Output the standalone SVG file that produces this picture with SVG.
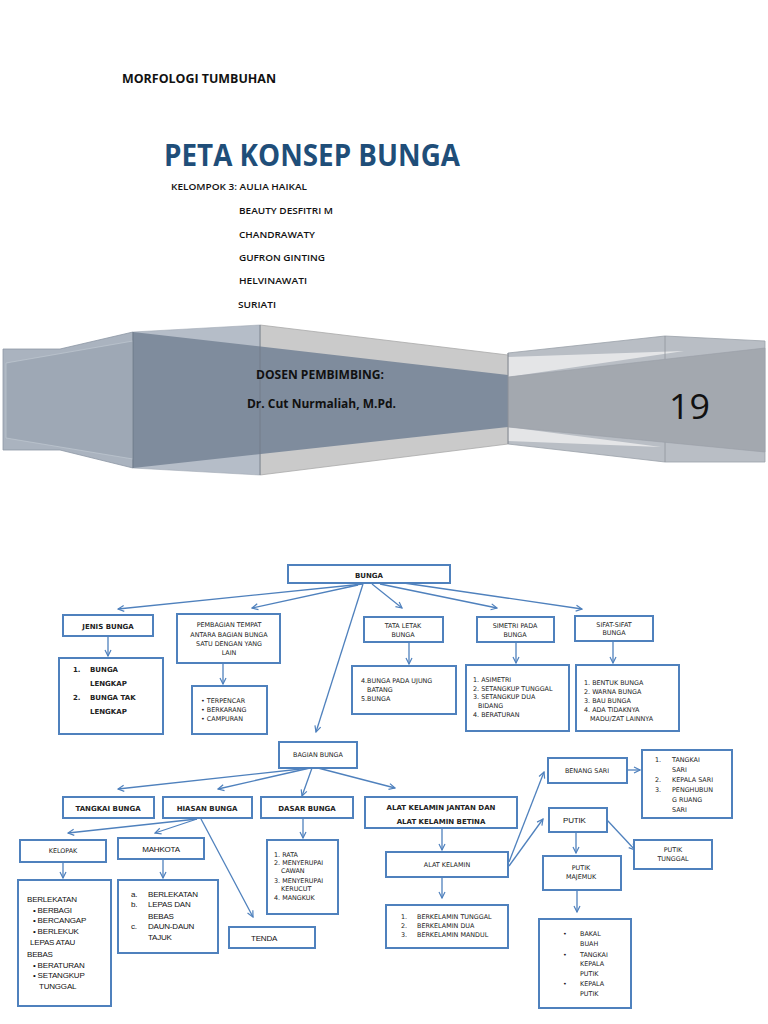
<svg xmlns="http://www.w3.org/2000/svg" width="768" height="1024" viewBox="0 0 768 1024">
<defs>
<marker id="ah" markerWidth="8" markerHeight="8" refX="7" refY="4" orient="auto" markerUnits="userSpaceOnUse"><path d="M1,1 L7,4 L1,7" fill="none" stroke="#4f81bd" stroke-width="1.2"/></marker>
<style>
.box{fill:#fff;stroke:#4f81bd;stroke-width:2}
.c{stroke:#4f81bd;stroke-width:1.3;fill:none;marker-end:url(#ah)}
.t{font-family:"DejaVu Sans",Verdana,sans-serif;font-size:6.4px;fill:#222}
.tm{text-anchor:middle}
.b{font-family:"DejaVu Sans",Verdana,sans-serif;font-size:7px;font-weight:bold;fill:#222}
.l{font-family:"Liberation Sans",Arial,sans-serif;font-size:8px;fill:#111;letter-spacing:-0.2px}
.h{font-family:"Open Sans","Liberation Sans",sans-serif;fill:#111}
.n{font-weight:600}
</style>
</defs>
<rect width="768" height="1024" fill="#fff"/>
<g id="header">
<text class="h" x="122" y="83" font-size="12.5" font-weight="bold" textLength="154" lengthAdjust="spacingAndGlyphs">MORFOLOGI TUMBUHAN</text>
<text x="164" y="166" font-family="'Open Sans','Liberation Sans',sans-serif" font-size="30" font-weight="bold" fill="#1f4e79" textLength="296" lengthAdjust="spacingAndGlyphs">PETA KONSEP BUNGA</text>
<text class="h n" x="171" y="190" font-size="9.5" textLength="136" lengthAdjust="spacingAndGlyphs">KELOMPOK 3: AULIA HAIKAL</text>
<text class="h n" x="239" y="214" font-size="9.5" textLength="94" lengthAdjust="spacingAndGlyphs">BEAUTY DESFITRI M</text>
<text class="h n" x="239" y="238" font-size="9.5" textLength="76" lengthAdjust="spacingAndGlyphs">CHANDRAWATY</text>
<text class="h n" x="239" y="261" font-size="9.5" textLength="86" lengthAdjust="spacingAndGlyphs">GUFRON GINTING</text>
<text class="h n" x="239" y="284" font-size="9.5" textLength="68" lengthAdjust="spacingAndGlyphs">HELVINAWATI</text>
<text class="h n" x="238" y="308" font-size="9.5" textLength="38" lengthAdjust="spacingAndGlyphs">SURIATI</text>
</g>
<g id="banner">
<polygon points="508,353 665,336 765,341 765,462 665,462 508,444" fill="#b9bec5" stroke="#9aa1a9" stroke-width="0.8"/>
<polygon points="508,357 684,351 508,377" fill="#e4e5e7"/>
<polygon points="508,427 661,447 508,441" fill="#e4e5e7"/>
<line x1="665" y1="336" x2="665" y2="462" stroke="#8f959d" stroke-width="0.8"/>
<polygon points="508,377 765,348 765,452 508,427" fill="#a3a8af" stroke="#9aa0a8" stroke-width="0.6"/>
<polygon points="260,325 508,355 508,444 260,475" fill="#cacaca" stroke="#a9a9a9" stroke-width="0.8"/>
<polygon points="133,332 260,325 260,475 133,468" fill="#b5bdc8" stroke="#a0a8b3" stroke-width="0.6"/>
<polygon points="3,349 60,349 133,332 133,468 60,450 3,450" fill="#aab3bf" stroke="#8d97a4" stroke-width="0.8"/>
<polygon points="6,363 133,341 133,459 6,438" fill="#9ea8b5" stroke="#c5ccd5" stroke-width="0.6"/>
<polygon points="133,332 508,375 508,427 133,468" fill="#7f8c9d"/>
<line x1="133" y1="332" x2="133" y2="468" stroke="#6f7b8a" stroke-width="1"/>
<line x1="260" y1="325" x2="260" y2="475" stroke="#6f7680" stroke-width="0.8" opacity="0.8"/>
<line x1="508" y1="353" x2="508" y2="444" stroke="#8a9099" stroke-width="1"/>
<text class="h" x="256" y="379" font-size="12" font-weight="bold" textLength="128" lengthAdjust="spacingAndGlyphs">DOSEN PEMBIMBING:</text>
<text class="h" x="247" y="408" font-size="12" font-weight="bold" textLength="149" lengthAdjust="spacingAndGlyphs">Dr. Cut Nurmaliah, M.Pd.</text>
<text class="h" x="669" y="419" font-size="34" textLength="41" lengthAdjust="spacingAndGlyphs">19</text>
</g>
<g id="connectors">
<line class="c" x1="363" y1="584" x2="118" y2="609"/>
<line class="c" x1="358" y1="585" x2="252" y2="608"/>
<line class="c" x1="363" y1="584" x2="316" y2="732"/>
<line class="c" x1="372" y1="584" x2="402" y2="608"/>
<line class="c" x1="380" y1="584" x2="497" y2="608"/>
<line class="c" x1="397" y1="582" x2="582" y2="609"/>
<line class="c" x1="108" y1="637" x2="108" y2="656"/>
<line class="c" x1="223" y1="664" x2="223" y2="684"/>
<line class="c" x1="409" y1="643" x2="409" y2="664"/>
<line class="c" x1="516" y1="643" x2="516" y2="663"/>
<line class="c" x1="613" y1="642" x2="613" y2="663"/>
<line class="c" x1="310" y1="768" x2="118" y2="789"/>
<line class="c" x1="310" y1="768" x2="218" y2="789"/>
<line class="c" x1="312" y1="768" x2="302" y2="796"/>
<line class="c" x1="318" y1="768" x2="395" y2="788"/>
<line class="c" x1="197" y1="819" x2="68" y2="833"/>
<line class="c" x1="197" y1="819" x2="155" y2="833"/>
<line class="c" x1="201" y1="819" x2="253" y2="917"/>
<line class="c" x1="303" y1="819" x2="303" y2="838"/>
<line class="c" x1="63" y1="862" x2="63" y2="878"/>
<line class="c" x1="163" y1="859" x2="163" y2="878"/>
<line class="c" x1="442" y1="828" x2="442" y2="850"/>
<line class="c" x1="442" y1="877" x2="442" y2="898"/>
<line class="c" x1="509" y1="862" x2="544" y2="772"/>
<line class="c" x1="509" y1="866" x2="543" y2="819"/>
<line class="c" x1="627" y1="770" x2="640" y2="770"/>
<line class="c" x1="607" y1="820" x2="635" y2="850"/>
<line class="c" x1="576" y1="832" x2="576" y2="853"/>
<line class="c" x1="577" y1="890" x2="577" y2="912"/>
</g>
<g id="bunga"><rect class="box" x="288" y="565" width="162" height="18"/><text class="b tm" x="369" y="578">BUNGA</text></g>
<g id="jenis"><rect class="box" x="63" y="615" width="90" height="21"/><text class="b tm" x="108" y="629">JENIS BUNGA</text></g>
<g id="jenis-list"><rect class="box" x="59" y="658" width="104" height="76"/>
<text class="b" font-size="7.5" x="73" y="672">1.</text><text class="b" font-size="7.5" x="90" y="672">BUNGA</text>
<text class="b" font-size="7.5" x="90" y="686">LENGKAP</text>
<text class="b" font-size="7.5" x="73" y="700">2.</text><text class="b" font-size="7.5" x="90" y="700">BUNGA TAK</text>
<text class="b" font-size="7.5" x="90" y="714">LENGKAP</text></g>
<g id="pembagian"><rect class="box" x="177" y="614" width="103" height="49"/>
<text class="t tm" x="229" y="627">PEMBAGIAN TEMPAT</text><text class="t tm" x="229" y="637">ANTARA BAGIAN BUNGA</text><text class="t tm" x="229" y="646">SATU DENGAN YANG</text><text class="t tm" x="229" y="655">LAIN</text></g>
<g id="pembagian-list"><rect class="box" x="192" y="686" width="75" height="48"/>
<text class="t" x="201" y="703">• TERPENCAR</text><text class="t" x="201" y="712">• BERKARANG</text><text class="t" x="201" y="721">• CAMPURAN</text></g>
<g id="tata"><rect class="box" x="364" y="617" width="79" height="25"/><text class="t tm" x="403" y="628">TATA LETAK</text><text class="t tm" x="403" y="637">BUNGA</text></g>
<g id="tata-list"><rect class="box" x="352" y="666" width="104" height="48"/>
<text class="t" x="361" y="683">4.BUNGA PADA UJUNG</text><text class="t" x="367" y="692">BATANG</text><text class="t" x="361" y="701">5.BUNGA</text></g>
<g id="simetri"><rect class="box" x="477" y="617" width="77" height="25"/><text class="t tm" x="515" y="628">SIMETRI PADA</text><text class="t tm" x="515" y="637">BUNGA</text></g>
<g id="simetri-list"><rect class="box" x="466" y="665" width="103" height="66"/>
<text class="t" x="473" y="682">1. ASIMETRI</text><text class="t" x="473" y="691">2. SETANGKUP TUNGGAL</text><text class="t" x="473" y="699">3. SETANGKUP DUA</text><text class="t" x="478" y="708">BIDANG</text><text class="t" x="473" y="717">4. BERATURAN</text></g>
<g id="sifat"><rect class="box" x="575" y="616" width="78" height="25"/><text class="t tm" x="614" y="627">SIFAT-SIFAT</text><text class="t tm" x="614" y="635">BUNGA</text></g>
<g id="sifat-list"><rect class="box" x="576" y="665" width="103" height="66"/>
<text class="t" x="584" y="685">1. BENTUK BUNGA</text><text class="t" x="584" y="694">2. WARNA BUNGA</text><text class="t" x="584" y="703">3. BAU BUNGA</text><text class="t" x="584" y="712">4. ADA TIDAKNYA</text><text class="t" x="590" y="721">MADU/ZAT LAINNYA</text></g>
<g id="bagian"><rect class="box" x="279" y="742" width="78" height="26"/><text class="t tm" x="318" y="757">BAGIAN BUNGA</text></g>
<g id="tangkai"><rect class="box" x="63" y="797" width="91" height="21"/><text class="b tm" x="108" y="811">TANGKAI BUNGA</text></g>
<g id="hiasan"><rect class="box" x="163" y="797" width="89" height="21"/><text class="b tm" x="207" y="811">HIASAN BUNGA</text></g>
<g id="dasar"><rect class="box" x="261" y="797" width="92" height="21"/><text class="b tm" x="307" y="811">DASAR BUNGA</text></g>
<g id="alat-jantan-betina"><rect class="box" x="365" y="797" width="152" height="31"/><text class="b tm" x="441" y="810">ALAT KELAMIN JANTAN DAN</text><text class="b tm" x="441" y="824">ALAT KELAMIN BETINA</text></g>
<g id="kelopak"><rect class="box" x="20" y="840" width="86" height="22"/><text class="t tm" font-size="7" x="63" y="853">KELOPAK</text></g>
<g id="mahkota"><rect class="box" x="118" y="838" width="86" height="21"/><text class="l tm" font-size="9.5" x="161" y="852">MAHKOTA</text></g>
<g id="dasar-list"><rect class="box" x="267" y="840" width="71" height="74"/>
<text class="t" x="274" y="857">1. RATA</text><text class="t" x="274" y="865">2. MENYERUPAI</text><text class="t" x="281" y="873">CAWAN</text><text class="t" x="274" y="883">3. MENYERUPAI</text><text class="t" x="281" y="891">KERUCUT</text><text class="t" x="274" y="900">4. MANGKUK</text></g>
<g id="kelopak-list"><rect class="box" x="18" y="880" width="93" height="126"/>
<text class="l" x="27" y="902">BERLEKATAN</text><text class="l" x="33" y="913">• BERBAGI</text><text class="l" x="33" y="923">• BERCANGAP</text><text class="l" x="33" y="934">• BERLEKUK</text><text class="l" x="30" y="945">LEPAS ATAU</text><text class="l" x="27" y="957">BEBAS</text><text class="l" x="33" y="968">• BERATURAN</text><text class="l" x="33" y="978">• SETANGKUP</text><text class="l" x="39" y="989">TUNGGAL</text></g>
<g id="mahkota-list"><rect class="box" x="118" y="880" width="100" height="73"/>
<text class="l" x="131" y="897">a.</text><text class="l" x="148" y="897">BERLEKATAN</text><text class="l" x="131" y="907">b.</text><text class="l" x="148" y="907">LEPAS DAN</text><text class="l" x="148" y="919">BEBAS</text><text class="l" x="131" y="929">c.</text><text class="l" x="148" y="929">DAUN-DAUN</text><text class="l" x="148" y="940">TAJUK</text></g>
<g id="tenda"><rect class="box" x="229" y="927" width="86" height="21"/><text class="l" font-size="9" x="251" y="941">TENDA</text></g>
<g id="alat-kelamin"><rect class="box" x="386" y="852" width="122" height="25"/><text class="t tm" font-size="6.8" x="447" y="867">ALAT KELAMIN</text></g>
<g id="berkelamin-list"><rect class="box" x="386" y="905" width="122" height="43"/>
<text class="t" x="401" y="919">1.</text><text class="t" x="417" y="919">BERKELAMIN TUNGGAL</text><text class="t" x="401" y="928">2.</text><text class="t" x="417" y="928">BERKELAMIN DUA</text><text class="t" x="401" y="937">3.</text><text class="t" x="417" y="937">BERKELAMIN MANDUL</text></g>
<g id="benang-sari"><rect class="box" x="548" y="758" width="79" height="25"/><text class="t tm" font-size="6.8" x="587" y="773">BENANG SARI</text></g>
<g id="benang-list"><rect class="box" x="642" y="750" width="90" height="68"/>
<text class="t" font-size="7" x="655" y="762">1.</text><text class="t" font-size="7" x="672" y="762">TANGKAI</text><text class="t" font-size="7" x="672" y="772">SARI</text><text class="t" font-size="7" x="655" y="782">2.</text><text class="t" font-size="7" x="672" y="782">KEPALA SARI</text><text class="t" font-size="7" x="655" y="792">3.</text><text class="t" font-size="7" x="672" y="792">PENGHUBUN</text><text class="t" font-size="7" x="672" y="802">G RUANG</text><text class="t" font-size="7" x="672" y="812">SARI</text></g>
<g id="putik"><rect class="box" x="549" y="808" width="58" height="24"/><text class="l" font-size="8.5" x="563" y="823">PUTIK</text></g>
<g id="putik-tunggal"><rect class="box" x="634" y="840" width="78" height="29"/><text class="t tm" font-size="7" x="673" y="852">PUTIK</text><text class="t tm" font-size="7" x="673" y="861">TUNGGAL</text></g>
<g id="putik-majemuk"><rect class="box" x="543" y="856" width="78" height="34"/><text class="t tm" font-size="7" x="581" y="870">PUTIK</text><text class="t tm" font-size="7" x="581" y="879">MAJEMUK</text></g>
<g id="putik-list"><rect class="box" x="539" y="919" width="92" height="89"/>
<text class="t" font-size="7" x="563" y="936">•</text><text class="t" font-size="7" x="580" y="936">BAKAL</text><text class="t" font-size="7" x="580" y="946">BUAH</text>
<text class="t" font-size="7" x="563" y="957">•</text><text class="t" font-size="7" x="580" y="957">TANGKAI</text><text class="t" font-size="7" x="580" y="966">KEPALA</text><text class="t" font-size="7" x="580" y="976">PUTIK</text>
<text class="t" font-size="7" x="563" y="986">•</text><text class="t" font-size="7" x="580" y="986">KEPALA</text><text class="t" font-size="7" x="580" y="996">PUTIK</text></g>
</svg>
